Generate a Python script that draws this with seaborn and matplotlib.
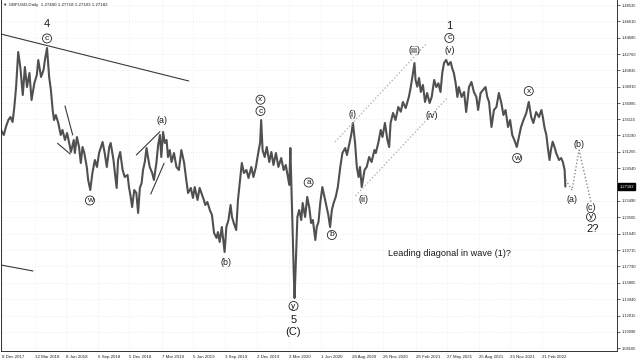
import matplotlib
matplotlib.use("Agg")
import matplotlib.pyplot as plt
import seaborn as sns
import pandas as pd

# ---------------- data ----------------
START = pd.Timestamp("2017-12-08")

day_offset = [-3, 5, 11, 18, 24, 30, 35, 40, 46, 52, 59, 65, 71, 78, 84, 92, 99, 103, 111, 118,
              122, 128, 134, 139, 144, 148, 153, 160, 167, 172, 179, 185, 191, 196, 204, 207, 213,
              219, 224, 229, 234, 241, 245, 251, 257, 264, 270, 276, 286, 292, 298, 305, 309, 317,
              321, 326, 330, 336, 343, 349, 357, 361, 366, 370, 376, 382, 387, 392, 397, 401, 406,
              411, 415, 420, 427, 432, 439, 444, 449, 453, 458, 463, 468, 472, 477, 482, 489, 496,
              503, 510, 518, 524, 529, 537, 543, 548, 556, 562, 569, 574, 578, 584, 591, 597, 603,
              610, 614, 619, 625, 633, 638, 644, 650, 654, 659, 666, 671, 676, 682, 688, 695, 701,
              709, 715, 722, 730, 734, 737, 741, 747, 753, 760, 766, 772, 779, 786, 794, 801, 807,
              813, 817, 820, 824, 827, 830, 832, 836, 840, 845, 851, 855, 862, 868, 874, 879, 884,
              891, 895, 900, 905, 911, 917, 923, 928, 933, 938, 943, 949, 955, 962, 968, 976, 981,
              987, 993, 998, 1004, 1009, 1014, 1018, 1023, 1031, 1037, 1044, 1051, 1059, 1063, 1070,
              1077, 1082, 1089, 1096, 1101, 1105, 1112, 1119, 1127, 1134, 1140, 1148, 1153, 1157,
              1162, 1167, 1173, 1176, 1181, 1186, 1191, 1197, 1203, 1209, 1216, 1222, 1229, 1235,
              1241, 1247, 1252, 1257, 1263, 1269, 1276, 1280, 1285, 1290, 1295, 1299, 1307, 1314,
              1320, 1328, 1335, 1342, 1349, 1354, 1361, 1368, 1375, 1380, 1385, 1392, 1399, 1406,
              1413, 1420, 1426, 1432, 1439, 1445, 1451, 1457, 1464, 1470, 1476, 1483, 1491, 1498,
              1505, 1511, 1519, 1527, 1534, 1538, 1543, 1548, 1552, 1557, 1561, 1566, 1571, 1576,
              1584, 1590, 1595, 1600, 1602]

close = [1.3384, 1.3325, 1.3419, 1.3501, 1.3536, 1.3478, 1.3654, 1.3889, 1.4301, 1.4124, 1.3795,
         1.4124, 1.3889, 1.4054, 1.3736, 1.3936, 1.4030, 1.4207, 1.4007, 1.4089, 1.4207, 1.4348,
         1.4007, 1.3854, 1.3619, 1.3501, 1.3560, 1.3466, 1.3325, 1.3384, 1.3266, 1.3348, 1.3231,
         1.3125, 1.3266, 1.3113, 1.3301, 1.3184, 1.2996, 1.3184, 1.3113, 1.2949, 1.2796, 1.2678,
         1.2878, 1.3031, 1.2949, 1.3113, 1.3243, 1.3113, 1.2949, 1.3184, 1.3231, 1.3031, 1.2878,
         1.2702, 1.3031, 1.3125, 1.2913, 1.2831, 1.2855, 1.2713, 1.2596, 1.2478, 1.2678, 1.2643,
         1.2408, 1.2702, 1.2760, 1.2913, 1.3007, 1.3172, 1.3066, 1.2949, 1.2878, 1.2796, 1.2996,
         1.3207, 1.3325, 1.3066, 1.3360, 1.3231, 1.3266, 1.3066, 1.3148, 1.3007, 1.3113, 1.2949,
         1.2913, 1.3148, 1.2996, 1.2796, 1.2643, 1.2702, 1.2584, 1.2713, 1.2561, 1.2702, 1.2619,
         1.2561, 1.2502, 1.2537, 1.2443, 1.2384, 1.2173, 1.2114, 1.2184, 1.2067, 1.2243, 1.1949,
         1.2243, 1.2325, 1.2502, 1.2361, 1.2290, 1.2208, 1.2561, 1.2760, 1.2996, 1.2878, 1.2913,
         1.2819, 1.2949, 1.2831, 1.2949, 1.3148, 1.3231, 1.3501, 1.3148, 1.3066, 1.3184, 1.3007,
         1.3125, 1.2972, 1.3113, 1.2949, 1.3054, 1.2913, 1.2972, 1.2831, 1.2737, 1.3172, 1.2561,
         1.2090, 1.1655, 1.1408, 1.1890, 1.2361, 1.2443, 1.2325, 1.2525, 1.2361, 1.2596, 1.2466,
         1.2290, 1.2325, 1.2090, 1.2243, 1.2302, 1.2525, 1.2713, 1.2596, 1.2478, 1.2384, 1.2243,
         1.2443, 1.2525, 1.2596, 1.2713, 1.2949, 1.3113, 1.3172, 1.3090, 1.3207, 1.3325, 1.3466,
         1.3231, 1.2949, 1.2831, 1.2949, 1.2713, 1.2913, 1.2949, 1.3066, 1.3007, 1.3148, 1.3113,
         1.3231, 1.3384, 1.3302, 1.3466, 1.3266, 1.3184, 1.3466, 1.3584, 1.3501, 1.3654, 1.3599,
         1.3713, 1.3642, 1.3713, 1.3772, 1.3878, 1.4007, 1.4171, 1.3972, 1.3893, 1.3995, 1.3831,
         1.3913, 1.3713, 1.3819, 1.3701, 1.3772, 1.3972, 1.3889, 1.3933, 1.3831, 1.4054, 1.4171,
         1.4207, 1.4148, 1.4183, 1.4113, 1.4054, 1.3936, 1.3772, 1.3889, 1.3772, 1.3831, 1.3595,
         1.3889, 1.3948, 1.3831, 1.3772, 1.3619, 1.3819, 1.3854, 1.3889, 1.3772, 1.3713, 1.3419,
         1.3619, 1.3654, 1.3819, 1.3701, 1.3560, 1.3619, 1.3419, 1.3501, 1.3325, 1.3266, 1.3184,
         1.3301, 1.3419, 1.3501, 1.3584, 1.3713, 1.3536, 1.3466, 1.3595, 1.3536, 1.3619, 1.3536,
         1.3407, 1.3325, 1.3184, 1.3031, 1.3148, 1.3246, 1.3187, 1.3113, 1.3031, 1.3054, 1.3007,
         1.2913, 1.27182]

# projected path (dotted)
proj_days = [1603, 1621, 1641, 1675]
proj_price = [1.2796, 1.2678, 1.3148, 1.2537]

# solid trend lines: (day start, day end), (price start, price end)
trend_days = [(-3, 531), (-3, 88), (179, 201), (158, 194), (382, 449), (423, 461)]
trend_price = [(1.4512, 1.3960), (1.1796, 1.1726), (1.3666, 1.3325), (1.3227, 1.3101),
               (1.3090, 1.3364), (1.2631, 1.2992)]

# dotted channel lines
chan_days = [(947, 1209), (1005, 1266)]
chan_price = [(1.3243, 1.4407), (1.2608, 1.3760)]

tick_dates = ["2017-12-08", "2018-03-12", "2018-06-08", "2018-09-06", "2018-12-05", "2019-03-07",
              "2019-06-05", "2019-09-03", "2019-12-02", "2020-03-03", "2020-06-01", "2020-08-28",
              "2020-11-26", "2021-02-26", "2021-05-27", "2021-08-25", "2021-11-23", "2022-02-21"]
tick_labels = ["8 Dec 2017", "12 Mar 2018", "8 Jun 2018", "6 Sep 2018", "5 Dec 2018", "7 Mar 2019",
               "5 Jun 2019", "3 Sep 2019", "2 Dec 2019", "3 Mar 2020", "1 Jun 2020", "28 Aug 2020",
               "26 Nov 2020", "26 Feb 2021", "27 May 2021", "25 Aug 2021", "23 Nov 2021", "21 Feb 2022"]
price_ticks = [1.48535, 1.46610, 1.44685, 1.42760, 1.40835, 1.38910, 1.36985, 1.35115, 1.33190,
               1.31265, 1.29340, 1.25490, 1.23565, 1.21640, 1.19715, 1.17790, 1.15865, 1.13940,
               1.12015, 1.10090, 1.08165]
last_price = 1.27182
header = "\u25bc GBPUSD,Daily  1.27400 1.27718 1.27103 1.27182"
note = "Leading diagonal in wave (1)?"

# ---------------- drawing ----------------
sns.set_style("white")
plt.rcParams["font.family"] = ["Liberation Sans", "DejaVu Sans"]


def D(d):
    return START + pd.Timedelta(days=d)


fig = plt.figure(figsize=(6.4, 3.6), dpi=100)
ax = fig.add_axes([0.0016, 0.025, 0.9625, 0.975])

dates = START + pd.to_timedelta(day_offset, unit="D")
sns.lineplot(x=dates, y=close, ax=ax, color="#505050", lw=1.5, estimator=None, sort=False)

for (d0, d1), (p0, p1) in zip(trend_days, trend_price):
    ax.plot([D(d0), D(d1)], [p0, p1], color="#3a3a3a", lw=0.8)
for (d0, d1), (p0, p1) in zip(chan_days, chan_price):
    ax.plot([D(d0), D(d1)], [p0, p1], color="#b5b5b5", lw=1.0, ls=(0, (1, 1.5)))
ax.plot([D(d) for d in proj_days], proj_price, color="#8a8a8a", lw=1.0, ls=(0, (1, 1.5)))

ax.set_xlim(D(-2.84), D(1749))
ax.set_ylim(1.07849, 1.49123)

ax.set_xticks(pd.to_datetime(tick_dates))
ax.set_xticklabels(tick_labels, ha="left")
ax.yaxis.tick_right()
ax.set_yticks(price_ticks)
ax.set_yticklabels([f"{v:.5f}" for v in price_ticks])
ax.tick_params(axis="x", labelsize=3.2, length=2, width=0.5, pad=1, colors="#222222")
ax.tick_params(axis="y", labelsize=2.9, length=2, width=0.5, pad=1.5, colors="#222222")
ax.set_xlabel("")
ax.set_ylabel("")
ax.grid(True, color="#ededed", lw=0.5, ls=(0, (2, 2)))
for s in ["left", "bottom", "right"]:
    ax.spines[s].set_color("#333333")
    ax.spines[s].set_linewidth(0.7)
ax.spines["top"].set_visible(False)


def lab(d, p, s, size=6.4, circ=False):
    kw = dict(ha="center", va="center", fontsize=size, color="#1a1a1a", zorder=5)
    if circ:
        kw["fontsize"] = 6.0
        kw["bbox"] = dict(boxstyle="circle,pad=0.12", fc="white", ec="#222222", lw=0.6)
    ax.text(D(d), p, s, **kw)


lab(128, 1.4630, "4", 8)
lab(128, 1.4460, "c", circ=True)
lab(250, 1.2555, "w", circ=True)
lab(454, 1.3490, "(a)")
lab(636, 1.1831, "(b)")
lab(735, 1.3740, "x", circ=True)
lab(735, 1.3607, "c", circ=True)
lab(872, 1.2766, "a", circ=True)
lab(938, 1.2149, "b", circ=True)
lab(829, 1.1314, "y", circ=True)
lab(829, 1.1149, "5", 8)
lab(829, 1.1008, "(C)", 8)
lab(996, 1.3566, "(i)")
lab(1028, 1.2572, "(ii)")
lab(1172, 1.4313, "(iii)")
lab(1221, 1.3560, "(iv)")
lab(1272, 1.4313, "(v)")
lab(1272, 1.4466, "c", circ=True)
lab(1272, 1.4612, "1", 8)
lab(1498, 1.3842, "x", circ=True)
lab(1465, 1.3054, "w", circ=True)
lab(1641, 1.3219, "(b)")
lab(1621, 1.2572, "(a)")
lab(1675, 1.2478, "(c)")
lab(1675, 1.2362, "y", circ=True)
lab(1681, 1.2225, "2?", 8)
lab(1272, 1.1926, note, 6.6)

ax.annotate(f"{last_price:.5f}", xy=(1.0, last_price), xycoords=("axes fraction", "data"),
            xytext=(1.6, 0), textcoords="offset points", ha="left", va="center",
            fontsize=2.9, color="white", annotation_clip=False,
            bbox=dict(boxstyle="square,pad=0.35", fc="black", ec="black"))

fig.text(0.004, 0.993, header, fontsize=3.2, va="top", ha="left", color="#222222")

fig.savefig("out.png", dpi=100)
